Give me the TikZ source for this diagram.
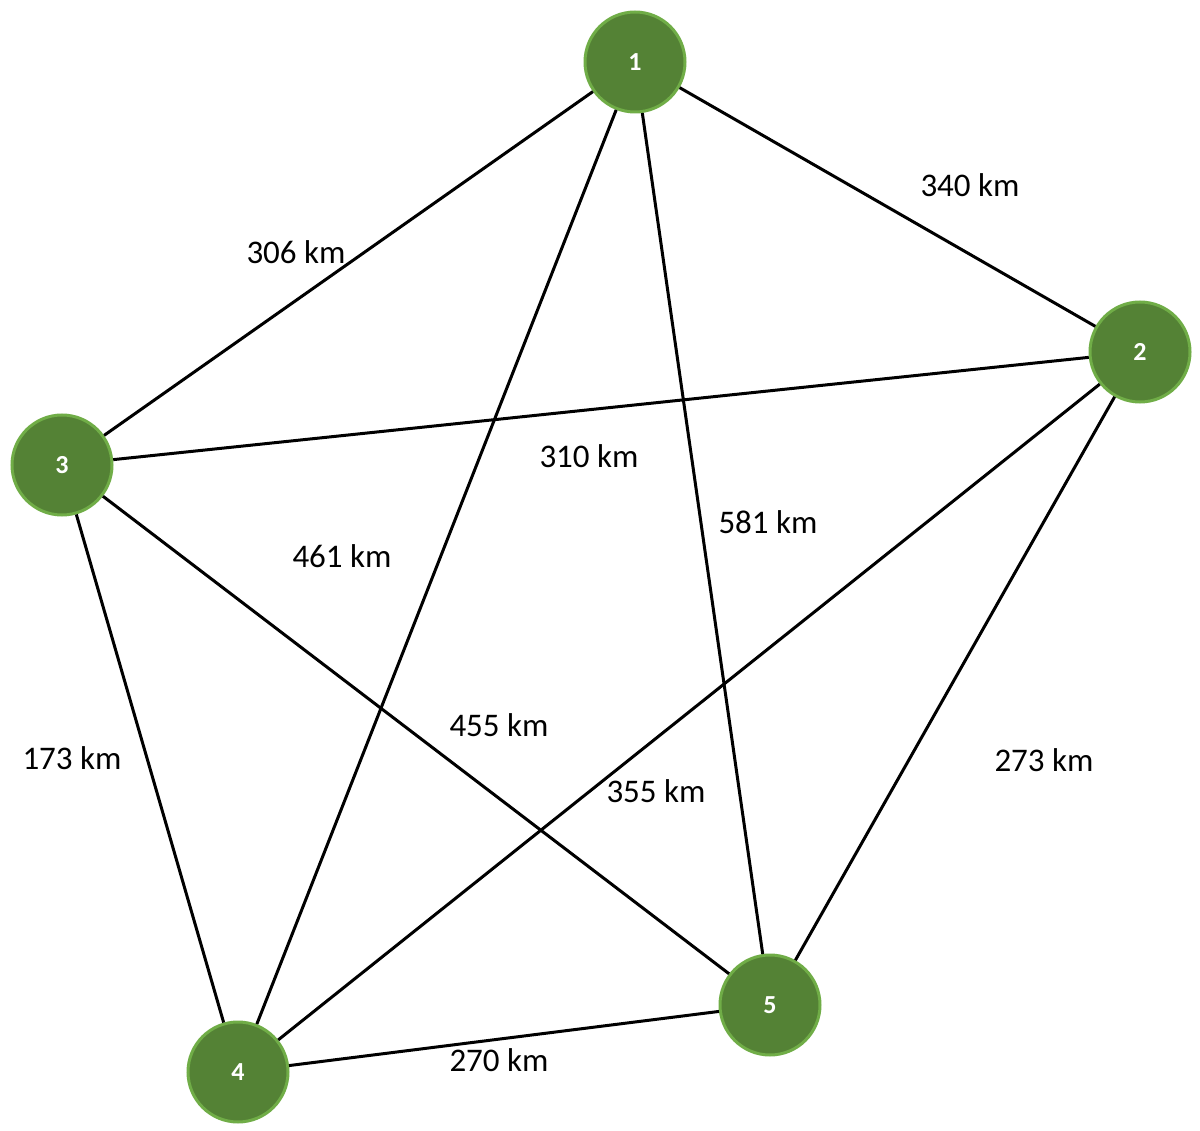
\documentclass[tikz,border=0pt]{standalone}
\usepackage{fontspec}
\setmainfont{Carlito}
\definecolor{nodefill}{HTML}{548235}
\definecolor{nodeline}{HTML}{70AD47}
\begin{document}
\begin{tikzpicture}[x=1pt,y=-1pt,
  vert/.style={circle,fill=nodefill,draw=nodeline,line width=3pt,minimum size=100pt,inner sep=0pt,text=white,font=\fontsize{26}{30}\selectfont\bfseries},
  edge/.style={line width=3pt,black},
  lab/.style={font=\fontsize{33}{38}\selectfont,text=black}]
\useasboundingbox (0,0) rectangle (1200,1131);
\node[vert] (n1) at (635,62) {1};
\node[vert] (n2) at (1140,352) {2};
\node[vert] (n3) at (62,465) {3};
\node[vert] (n4) at (238,1072) {4};
\node[vert] (n5) at (770,1005) {5};
\begin{scope}[on background layer/.style={}]
\end{scope}
\draw[edge] (n1) -- (n2);
\draw[edge] (n1) -- (n3);
\draw[edge] (n1) -- (n4);
\draw[edge] (n1) -- (n5);
\draw[edge] (n2) -- (n3);
\draw[edge] (n2) -- (n4);
\draw[edge] (n2) -- (n5);
\draw[edge] (n3) -- (n4);
\draw[edge] (n3) -- (n5);
\draw[edge] (n4) -- (n5);
\node[lab] (l12) at (970,185) {340 km};
\node[lab] (l13) at (296,252) {306 km};
\node[lab] (l23) at (589,456) {310 km};
\node[lab] (l15) at (768,522) {581 km};
\node[lab] (l14) at (342,556) {461 km};
\node[lab] (l35) at (499,725) {455 km};
\node[lab] (l34) at (72,758) {173 km};
\node[lab] (l24) at (656,791) {355 km};
\node[lab] (l25) at (1044,760) {273 km};
\node[lab] (l45) at (499,1060) {270 km};
\end{tikzpicture}
\end{document}
